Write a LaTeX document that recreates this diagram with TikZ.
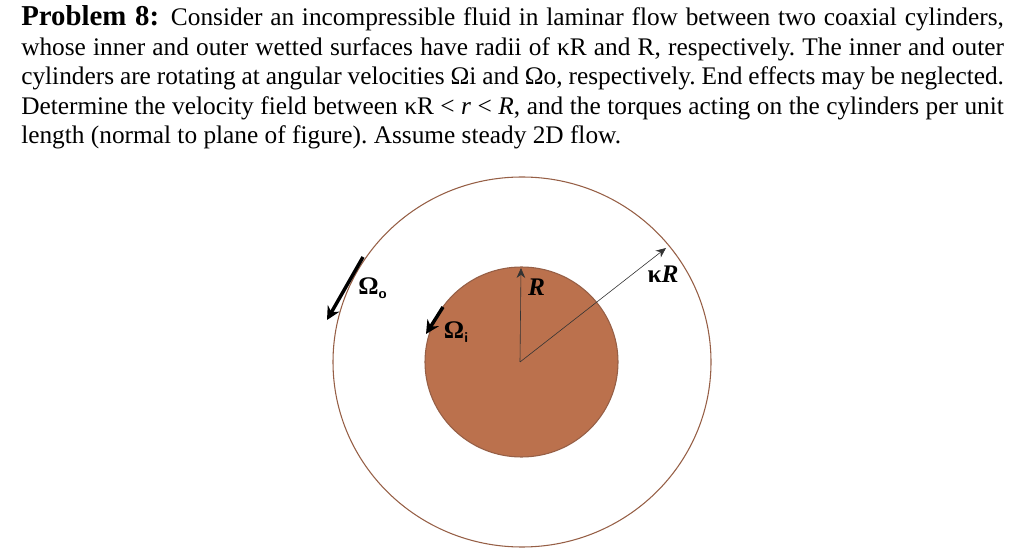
\documentclass[tikz,border=0pt]{standalone}
\usepackage{fontspec}
\setmainfont{Liberation Serif}
\usetikzlibrary{positioning,calc}
\usetikzlibrary{shapes}
\usetikzlibrary{arrows.meta}
\definecolor{cylfill}{RGB}{187,113,77}
\definecolor{cylline}{RGB}{150,95,70}
\tikzset{%
  every textline/.style={
    anchor=base west,
    inner sep=0pt,
    font=\fontsize{19}{19}\selectfont
  },
  every cylinder/.style={
    ellipse,
    draw=cylline,
    line width=0.8pt,
    inner sep=0pt
  },
  radius line/.style={
    -{Stealth[length=7.5pt,width=6.5pt]},
    line width=0.45pt,
    draw=black!80
  },
  spin arrow/.style={
    -{Stealth[length=10pt,width=10pt]},
    line width=2.6pt
  },
  every symbol/.style={
    inner sep=0pt,
    font=\fontsize{19}{19}\selectfont\bfseries
  },
}
\newcommand{\fillline}[1]{\makebox[737pt][s]{#1}}
\frenchspacing
\begin{document}
\begin{tikzpicture}[x=0.75pt, y=-0.75pt, >=stealth]
        \useasboundingbox (0,0) rectangle (1024,548);
        \node [every textline] (line-1) at (21,26) {\fillline{\fontsize{21.6}{21.6}\selectfont\textbf{Problem 8:}\fontsize{19}{19}\selectfont{}\hspace{3pt} Consider an incompressible fluid in laminar flow between two coaxial cylinders,}};
        \foreach \m/\l [count=\y] in {
            2/{whose inner and outer wetted surfaces have radii of κR and R, respectively. The inner and outer},
            3/{cylinders are rotating at angular velocities Ωi and Ωo, respectively. End effects may be neglected.},
            4/{Determine the velocity field between κR \textless{} \textit{r} \textless{} \textit{R}, and the torques acting on the cylinders per unit}}
            \node [every textline] (line-\m) at (21,26+\y*29.5) {\fillline{\l}};
        \node [every textline] (line-5) at (21,144) {length (normal to plane of figure). Assume steady 2D flow.};

        \node [every cylinder, minimum width=283.5pt, minimum height=277.5pt] (outer) at (522,362) {};
        \node [every cylinder, fill=cylfill, minimum width=144.75pt, minimum height=142.5pt] (inner) at (521.5,362) {};

        \coordinate (centre) at (520,362);
        \coordinate (inner-top) at (521,268);
        \coordinate (outer-end) at (666,248);
        \draw [radius line] (centre) -- (inner-top);
        \draw [radius line] (centre) -- (outer-end);

        \foreach \a/\b [count=\i] in {363/257,443/307}
            \coordinate (spin-\i) at (\a,\b);
        \coordinate (tip-1) at (327,320);
        \coordinate (tip-2) at (426,334);
        \foreach \i in {1,2}
            \draw [spin arrow] (spin-\i) -- (tip-\i);

        \node [every symbol] (omega-o) at (372.5,288) {Ω\raisebox{-3pt}{\fontsize{11}{11}\selectfont\sffamily\bfseries o}};
        \node [every symbol] (omega-i) at (456,332) {Ω\raisebox{-3pt}{\fontsize{11}{11}\selectfont\sffamily\bfseries i}};
        \node [every symbol] (label-R) at (536.5,287) {\textit{R}};
        \node [every symbol] (label-kR) at (663,274) {κ\textit{R}};
\end{tikzpicture}
\end{document}
